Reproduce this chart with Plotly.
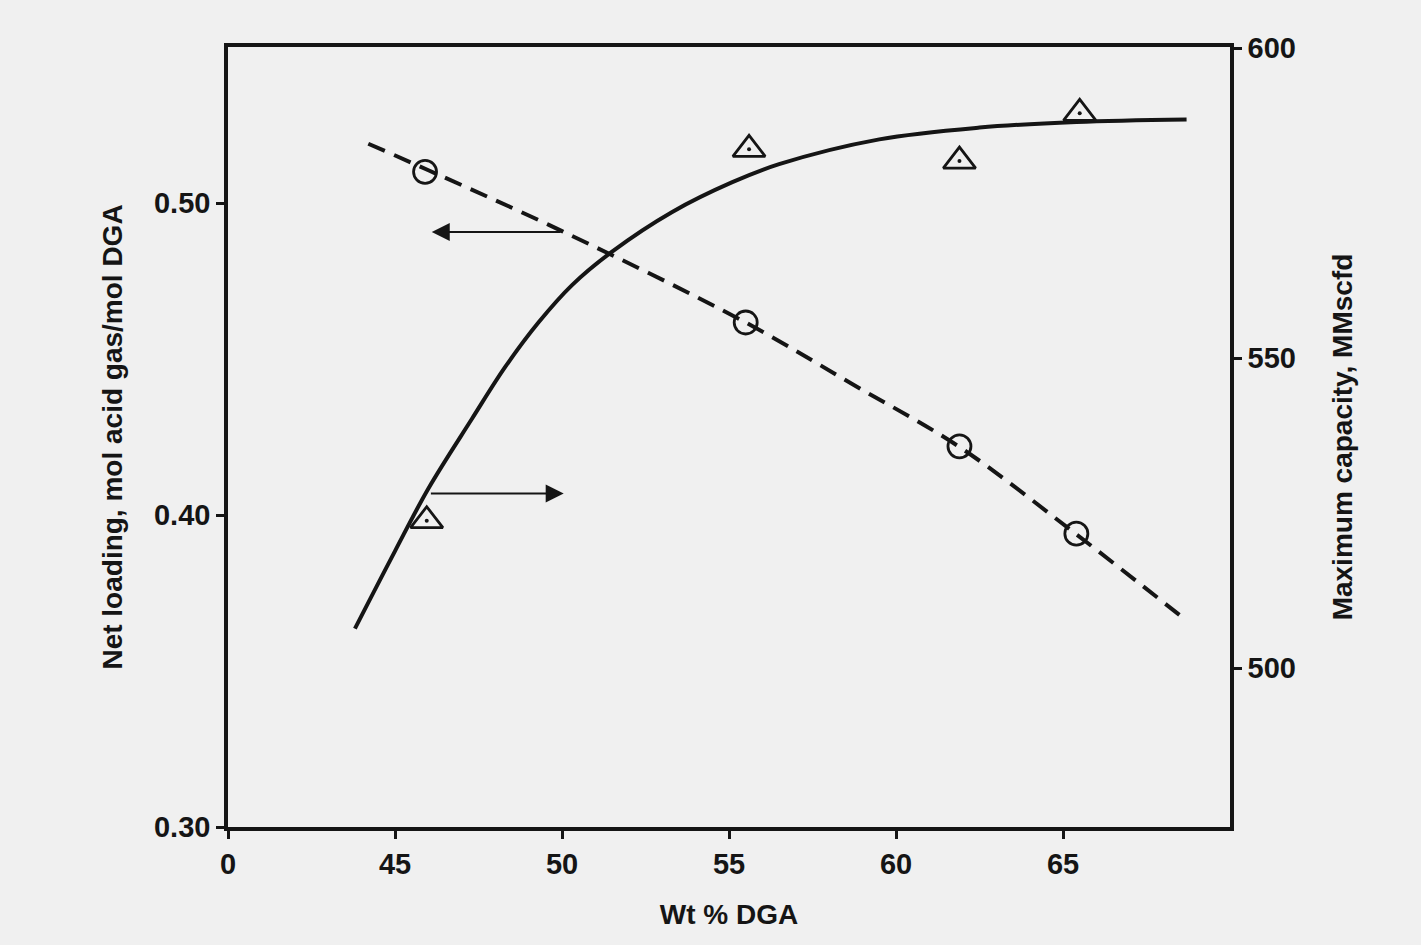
import plotly.graph_objects as go

# fitted curves
wt_load_curve = [44.2, 46.0, 50.0, 55.5, 58.7, 61.9, 65.4, 68.6]
load_curve = [0.519, 0.5105, 0.491, 0.4617, 0.4419, 0.4218, 0.3938, 0.367]

wt_cap_curve = [43.8, 45.0, 46.0, 47.3, 48.3, 49.3, 50.3, 51.5, 53.3, 55.1, 56.5, 59.5, 62.5, 65.4, 68.7]
cap_curve = [506.4, 518.9, 529.0, 540.2, 548.6, 555.8, 561.8, 567.2, 573.6, 578.4, 581.3, 585.3, 587.2, 588.1, 588.5]

# measured points
wt_load_pts = [45.9, 55.5, 61.9, 65.4]
load_pts = [0.510, 0.4617, 0.422, 0.394]

wt_cap_pts = [45.95, 55.6, 61.9, 65.5]
cap_pts = [523.8, 583.7, 581.8, 589.5]

x_tickvals = [40, 45, 50, 55, 60, 65]
x_ticktext = ["0", "45", "50", "55", "60", "65"]

ink = "#151515"
bg = "#f0f0f0"
font_family = "Liberation Sans, Arial, sans-serif"

fig = go.Figure()

fig.add_trace(go.Scatter(x=wt_load_curve, y=load_curve, mode="lines", line_shape="spline",
                         line=dict(color=ink, width=4, dash="18px,10px"), yaxis="y"))
fig.add_trace(go.Scatter(x=wt_cap_curve, y=cap_curve, mode="lines", line_shape="spline",
                         line=dict(color=ink, width=4), yaxis="y2"))

fig.add_trace(go.Scatter(x=wt_load_pts, y=load_pts, mode="markers", yaxis="y",
                         marker=dict(symbol="circle-open", size=23, color=ink, line=dict(width=2.8, color=ink))))
fig.add_trace(go.Scatter(x=wt_cap_pts, y=cap_pts, mode="markers", yaxis="y2",
                         marker=dict(symbol="triangle-up-open", size=28, color=ink, line=dict(width=2.8, color=ink))))
fig.add_trace(go.Scatter(x=wt_cap_pts, y=cap_pts, mode="markers", yaxis="y2",
                         marker=dict(symbol="circle", size=4, color=ink)))

# arrows pointing to the axis each curve belongs to
fig.add_annotation(x=46.1, y=0.4907, ax=50.0, ay=0.4907, xref="x", yref="y", axref="x", ayref="y",
                   text="", showarrow=True, arrowhead=2, arrowsize=1.8, arrowwidth=2, arrowcolor=ink)
fig.add_annotation(x=50.05, y=0.4069, ax=46.03, ay=0.4069, xref="x", yref="y", axref="x", ayref="y",
                   text="", showarrow=True, arrowhead=2, arrowsize=1.8, arrowwidth=2, arrowcolor=ink)

axis_common = dict(showgrid=False, zeroline=False, showline=True, linecolor=ink, linewidth=3.5,
                   ticks="outside", ticklen=8, tickwidth=3, tickcolor=ink,
                   tickfont=dict(family=font_family, size=29, color=ink, weight="bold"))
title_font = dict(family=font_family, size=28, color=ink, weight="bold")

fig.update_layout(
    width=1421, height=945,
    margin=dict(l=228, r=191, t=47, b=118),
    paper_bgcolor=bg, plot_bgcolor=bg,
    showlegend=False,
    xaxis=dict(range=[40, 70], tickvals=x_tickvals, ticktext=x_ticktext, mirror=True,
               title=dict(text="Wt % DGA", standoff=27, font=title_font),
               **axis_common),
    yaxis=dict(range=[0.30, 0.55], tickvals=[0.30, 0.40, 0.50], ticktext=["0.30", "0.40", "0.50"],
               title=dict(text="Net loading, mol acid gas/mol DGA", standoff=24, font=title_font),
               **axis_common),
    yaxis2=dict(range=[474.4, 600.2], tickvals=[500, 550, 600], overlaying="y", side="right",
                title=dict(text="Maximum capacity, MMscfd", standoff=38, font=title_font),
                **axis_common),
)

fig.write_html("out.html", config={"displayModeBar": False},
               post_script="document.body.style.margin='0';document.body.style.background='#f0f0f0';")
